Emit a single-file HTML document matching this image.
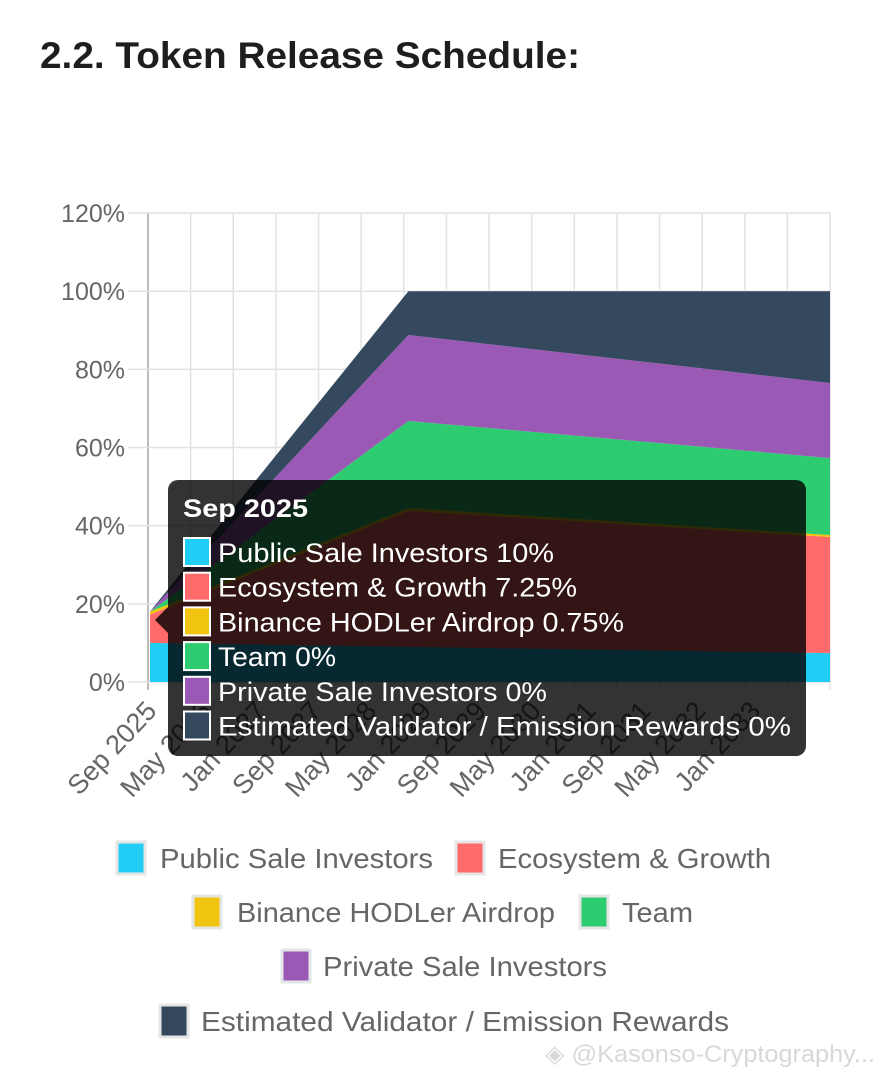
<!DOCTYPE html>
<html><head><meta charset="utf-8"><style>
html,body{margin:0;padding:0;background:#fff;}
svg{display:block;font-family:"Liberation Sans",sans-serif;}
</style></head><body>
<svg id="chart" width="891" height="1080" viewBox="0 0 891 1080" xmlns="http://www.w3.org/2000/svg">
<text x="40" y="68" font-size="37" font-weight="bold" fill="#1e1e1e" textLength="540" lengthAdjust="spacingAndGlyphs">2.2. Token Release Schedule:</text>
<g id="grid"></g>
<g id="areas"></g>
<g id="yaxis"></g>
<g id="xaxis"></g>
<g id="tooltip"></g>
<g id="legend"></g>
<text x="545" y="1062" font-size="24" fill="#d8d8d8" textLength="330" lengthAdjust="spacingAndGlyphs">◈ @Kasonso-Cryptography...</text>
</svg>
<script>
const months = [0, 38, 100];
const seriesNames = ["Public Sale Investors","Ecosystem & Growth","Binance HODLer Airdrop","Team","Private Sale Investors","Estimated Validator / Emission Rewards"];
const seriesColors = ["#22cdf5","#ff6b6b","#f1c40f","#2ecc71","#9b59b6","#34495e"];
const publicSale = [10, 9, 7.4];
const ecosystem = [7.25, 34.8, 29.7];
const airdrop = [0.75, 0.7, 0.5];
const team = [0, 22.3, 19.7];
const privateSale = [0, 22, 19.2];
const validator = [0, 11.2, 23.5];
const yTicks = [0, 20, 40, 60, 80, 100, 120];
const xTickLabels = ["Sep 2025","May 2026","Jan 2027","Sep 2027","May 2028","Jan 2029","Sep 2029","May 2030","Jan 2031","Sep 2031","May 2032","Jan 2033"];
const xTickMonths = [0,8,16,24,32,40,48,56,64,72,80,88];
const tooltipTitle = "Sep 2025";
const tooltipValues = ["10%","7.25%","0.75%","0%","0%","0%"];

const NS="http://www.w3.org/2000/svg";
const X0=150, XPM=6.8, Y0=682, YPP=3.908;
const xs=m=>X0+m*XPM, ys=v=>Y0-v*YPP;
function mk(tag,attrs,parent){const e=document.createElementNS(NS,tag);for(const k in attrs)e.setAttribute(k,attrs[k]);parent.appendChild(e);return e;}
const grid=document.getElementById('grid');
for(let i=0;i<=16;i++){const gx=148+i*42.63;
 const l=mk('line',{x1:gx,x2:gx,y1:213,y2:690,stroke:i==0?'#bbb':'#e2e2e2','stroke-width':i==0?2:1.5},grid);
 
 }
const yax=document.getElementById('yaxis');
yTicks.forEach(t=>{const l=mk('line',{x1:128,x2:830,y1:ys(t),y2:ys(t),stroke:'#e2e2e2','stroke-width':1.5},grid);
 
 
 const tx=mk('text',{x:125,y:ys(t)+9,'text-anchor':'end','font-size':25,fill:'#666'},yax);
 
 
 tx.textContent=t+'%';});
const all=[publicSale,ecosystem,airdrop,team,privateSale,validator];
const areas=document.getElementById('areas');
let base=months.map(()=>0);
all.forEach((s,si)=>{const top=s.map((v,i)=>base[i]+v);
 let d='M'+months.map((m,i)=>xs(m)+','+ys(top[i])).join(' L');
 for(let i=months.length-1;i>=0;i--)d+=' L'+xs(months[i])+','+ys(base[i]);
 const p=mk('path',{d:d+'Z',fill:seriesColors[si]},areas);
 
 
 base=top;});
const xax=document.getElementById('xaxis');
xTickLabels.forEach((lb,i)=>{const tx=xs(xTickMonths[i])+8+(i*0.5), ty=712;
 const t=mk('text',{x:tx,y:ty,'text-anchor':'end','font-size':27,fill:'#666',transform:`rotate(-47 ${tx} ${ty})`},xax);
 
 
 t.textContent=lb;});
const tt=document.getElementById('tooltip');
mk('path',{d:'M155,620 L168,607 L168,633 Z',fill:'rgba(0,0,0,0.8)'},tt);
mk('rect',{x:168,y:480,width:638,height:276,rx:10,fill:'rgba(0,0,0,0.8)'},tt);
const tit=mk('text',{x:183,y:517,'font-size':25,'font-weight':'bold',fill:'#fff',textLength:125,lengthAdjust:'spacingAndGlyphs'},tt);


tit.textContent=tooltipTitle;
const ttW=[336,359,406,118,329,573];
seriesNames.forEach((n,i)=>{const cy=552+i*34.7;
 const r=mk('rect',{x:184,y:cy-14,width:26,height:28,fill:seriesColors[i],stroke:'#fff','stroke-width':2},tt);
 
 
 const t=mk('text',{x:218,y:cy+10,'font-size':27,fill:'#fff',textLength:ttW[i],lengthAdjust:'spacingAndGlyphs'},tt);
 
 
 t.textContent=n+' '+tooltipValues[i];});
const lg=document.getElementById('legend');
const legPos=[[117,858,160,273],[456,858,498,273],[193,912,237,318],[580,912,622,71],[282,966,323,284],[160,1021,201,528]];
seriesNames.forEach((n,i)=>{const [sx,cy,tx,w]=legPos[i];
 const r=mk('rect',{x:sx,y:cy-16,width:28,height:32,fill:seriesColors[i],stroke:'#e6e6e6','stroke-width':3},lg);
 
 
 const t=mk('text',{x:tx,y:cy+10,'font-size':28,fill:'#666',textLength:w,lengthAdjust:'spacingAndGlyphs'},lg);
 
 
 t.textContent=n;});
</script>
</body></html>
